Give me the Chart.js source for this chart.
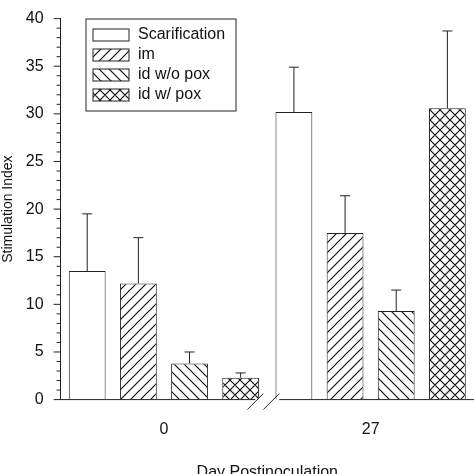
<!DOCTYPE html>
<html>
<head>
<meta charset="utf-8">
<script src="https://cdn.jsdelivr.net/npm/chart.js@4"></script>
<style>
 body { margin: 0; background: #fff; overflow: hidden; }
 #wrap { width: 474px; height: 486px; }
</style>
</head>
<body>
<div id="wrap"><canvas id="grafico"></canvas></div>
<script>
// dados
var dias = ['0', '27'];
var series = ['Scarification', 'im', 'id w/o pox', 'id w/ pox'];
var scarification = [13.5, 30.2];
var im = [12.2, 17.5];
var idSemPox = [3.8, 9.3];
var idComPox = [2.3, 30.6];
// topo das barras de erro
var erroScar = [19.5, 34.9];
var erroIm = [17.0, 21.4];
var erroIdSem = [5.0, 11.5];
var erroIdCom = [2.8, 38.7];
var yTicks = [0, 5, 10, 15, 20, 25, 30, 35, 40];

function hachura(tipo) {
    var c = document.createElement('canvas');
    c.width = 10; c.height = 10;
    var g = c.getContext('2d');
    g.fillStyle = '#fff'; g.fillRect(0, 0, 10, 10);
    g.strokeStyle = '#111'; g.lineWidth = 1.2;
    g.beginPath();
    if (tipo === '/' || tipo === 'x') {
        g.moveTo(-1, 11); g.lineTo(11, -1);
        g.moveTo(-6, 6); g.lineTo(6, -6);
        g.moveTo(4, 16); g.lineTo(16, 4);
    }
    if (tipo === '\\' || tipo === 'x') {
        g.moveTo(-1, -1); g.lineTo(11, 11);
        g.moveTo(-6, 4); g.lineTo(6, 16);
        g.moveTo(4, -6); g.lineTo(16, 6);
    }
    g.stroke();
    if (tipo === 'none') return '#fff';
    return g.createPattern(c, 'repeat');
}

var cores = [hachura('none'), hachura('/'), hachura('\\'), hachura('x')];
var valores = [scarification, im, idSemPox, idComPox];
var erros = [erroScar, erroIm, erroIdSem, erroIdCom];

var datasets = series.map(function (nome, i) {
    return {
        label: nome,
        data: valores[i],
        erro: erros[i],
        backgroundColor: cores[i],
        borderColor: '#222',
        borderWidth: 1,
        barPercentage: 0.72,
        categoryPercentage: 0.99
    };
});

var extras = {
    id: 'extras',
    afterDatasetsDraw: function (chart) {
        var ctx = chart.ctx, y = chart.scales.y, a = chart.chartArea;
        ctx.save();
        ctx.strokeStyle = '#222'; ctx.lineWidth = 1;
        // barras de erro (so para cima)
        chart.data.datasets.forEach(function (ds, i) {
            chart.getDatasetMeta(i).data.forEach(function (bar, j) {
                var topo = y.getPixelForValue(ds.erro[j]);
                ctx.beginPath();
                ctx.moveTo(bar.x, bar.y); ctx.lineTo(bar.x, topo);
                ctx.moveTo(bar.x - 5, topo); ctx.lineTo(bar.x + 5, topo);
                ctx.stroke();
            });
        });
        // eixo x com quebra
        var meio = (chart.scales.x.getPixelForValue(0) + chart.scales.x.getPixelForValue(1)) / 2;
        ctx.beginPath();
        ctx.moveTo(a.left, a.bottom); ctx.lineTo(meio - 12, a.bottom);
        ctx.moveTo(meio + 12, a.bottom); ctx.lineTo(a.right, a.bottom);
        ctx.moveTo(meio - 20, a.bottom + 10); ctx.lineTo(meio - 4, a.bottom - 6);
        ctx.moveTo(meio - 4, a.bottom + 10); ctx.lineTo(meio + 12, a.bottom - 6);
        ctx.stroke();
        // minor ticks no eixo y
        for (var v = 0; v <= 40; v++) {
            var py = y.getPixelForValue(v);
            ctx.beginPath();
            ctx.moveTo(a.left, py); ctx.lineTo(a.left - (v % 5 === 0 ? 7 : 4), py);
            ctx.stroke();
        }
        // legenda
        var lx = 86, ly = 19;
        ctx.strokeRect(lx, ly, 150, 92);
        ctx.font = '16px "Liberation Sans", Arial, sans-serif';
        ctx.fillStyle = '#111'; ctx.textBaseline = 'middle';
        chart.data.datasets.forEach(function (ds, i) {
            var yy = ly + 16 + i * 20;
            ctx.fillStyle = ds.backgroundColor;
            ctx.fillRect(lx + 7, yy - 6, 36, 12);
            ctx.strokeRect(lx + 7, yy - 6, 36, 12);
            ctx.fillStyle = '#111';
            ctx.fillText(ds.label, lx + 52, yy);
        });
        ctx.restore();
    }
};

new Chart(document.getElementById('grafico').getContext('2d'), {
    type: 'bar',
    data: { labels: dias, datasets: datasets },
    plugins: [extras],
    options: {
        responsive: true,
        maintainAspectRatio: false,
        animation: false,
        layout: { padding: { top: 3, right: 0, left: 0, bottom: 0 } },
        plugins: { legend: { display: false }, tooltip: { enabled: false } },
        scales: {
            x: {
                grid: { display: false },
                border: { display: false },
                ticks: { color: '#111', font: { size: 16, family: 'Liberation Sans' }, padding: 12 },
                title: { display: true, text: 'Day Postinoculation', color: '#111', font: { size: 16, family: 'Liberation Sans' }, padding: { top: 12 } }
            },
            y: {
                min: 0, max: 40,
                afterBuildTicks: function (s) { s.ticks = yTicks.map(function (v) { return { value: v }; }); },
                grid: { display: false },
                border: { display: true, color: '#222' },
                ticks: { color: '#111', font: { size: 16, family: 'Liberation Sans' }, padding: 9 },
                title: { display: true, text: 'Stimulation Index', color: '#111', font: { size: 14, family: 'Liberation Sans' }, padding: 0 }
            }
        }
    }
});
</script>
</body>
</html>
